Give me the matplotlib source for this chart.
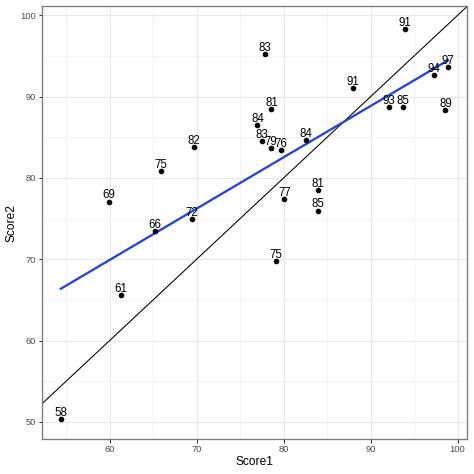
import numpy as np
import matplotlib
matplotlib.use("Agg")
import matplotlib.pyplot as plt
from matplotlib.ticker import MultipleLocator

score1 = [54.4, 61.3, 59.9, 65.2, 65.9, 69.7, 69.5, 77.9, 78.6, 77.0, 77.5, 78.5,
          79.7, 82.6, 80.1, 84.0, 84.0, 79.1, 94.0, 88.0, 92.1, 93.7, 97.3, 98.9, 98.6]
score2 = [50.3, 65.6, 77.1, 73.5, 80.8, 83.8, 74.9, 95.2, 88.5, 86.5, 84.5, 83.7,
          83.4, 84.7, 77.4, 78.5, 76.0, 69.8, 98.3, 91.1, 88.7, 88.7, 92.7, 93.6, 88.3]
labels = ["58", "61", "69", "66", "75", "82", "72", "83", "81", "84", "83", "79",
          "76", "84", "77", "81", "85", "75", "91", "91", "93", "85", "94", "97", "89"]

plt.rcParams['font.family'] = ['Liberation Sans', 'DejaVu Sans']

W = 474
dpi = 72
fig = plt.figure(figsize=(W / dpi, W / dpi), dpi=dpi)
ax = fig.add_axes([41.7 / W, 1 - 439 / W, (466.7 - 41.7) / W, (439 - 6) / W])

xlim = (52.2, 101.05)
ylim = (47.9, 101.15)
ax.set_xlim(*xlim)
ax.set_ylim(*ylim)

ax.xaxis.set_major_locator(MultipleLocator(10))
ax.yaxis.set_major_locator(MultipleLocator(10))
ax.xaxis.set_minor_locator(MultipleLocator(5))
ax.yaxis.set_minor_locator(MultipleLocator(5))
ax.grid(True, which='major', color='#E8E8E8', linewidth=1.07, zorder=0)
ax.grid(True, which='minor', color='#EEEEEE', linewidth=0.6, zorder=0)
ax.set_axisbelow(True)
ax.tick_params(which='minor', length=0)
ax.tick_params(which='major', length=3.5, width=1.0, color='#333333',
               labelcolor='#4D4D4D', labelsize=9.3, pad=2.2)
for sp in ax.spines.values():
    sp.set_color('#7A7A7A')
    sp.set_linewidth(1.3)

# identity line
ax.axline((60, 60), slope=1, color='black', linewidth=1.07, zorder=2)

# linear fit
x = np.array(score1)
y = np.array(score2)
b, a = np.polyfit(x, y, 1)
xs = np.linspace(x.min(), x.max(), 80)
ax.plot(xs, a + b * xs, color='#2743DF', linewidth=2.3, zorder=3)

ax.plot(x, y, 'o', color='black', markersize=4.6, zorder=4)
for xi, yi, lab in zip(score1, score2, labels):
    ax.annotate(lab, (xi, yi), xytext=(0, 3.2), textcoords='offset points',
                ha='center', va='baseline', fontsize=11.5, color='black', zorder=5)

ax.set_xlabel('Score1', fontsize=12, labelpad=2)
ax.set_ylabel('Score2', fontsize=12, labelpad=3)

fig.savefig('out.png', dpi=dpi)
